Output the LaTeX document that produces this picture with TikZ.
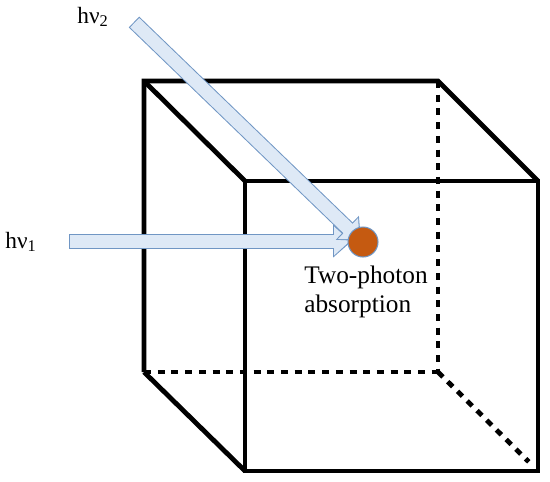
\documentclass[tikz,border=0pt]{standalone}
\usepackage{fontspec}
\setmainfont{Liberation Serif}
\usetikzlibrary{arrows.meta}
\definecolor{beamfill}{RGB}{222,233,246}
\definecolor{beamedge}{RGB}{112,150,196}
\definecolor{spotfill}{RGB}{197,90,17}

\begin{document}
\begin{tikzpicture}[
			x=0.02cm, y=-0.02cm,
			solid edge/.style={line width=4.8*0.02cm, line join=miter},
			hidden edge/.style={line width=4.8*0.02cm, dash pattern=on 7*0.02cm off 6.7*0.02cm},
			beam/.style={line width=15*0.02cm, draw=beamedge,
				-{Triangle[length=19*0.02cm, width=32*0.02cm]}},
			beam core/.style={line width=13*0.02cm, draw=beamfill, shorten <=1*0.02cm, shorten >=2*0.02cm,
				-{Triangle[length=16*0.02cm, width=28*0.02cm, color=beamfill]}},
			photon/.style={font=\fontsize{13.3}{15}\selectfont, anchor=base west, inner sep=0pt},
			caption/.style={font=\fontsize{14.4}{16.4}\selectfont, anchor=base west, inner sep=0pt, align=left},
			spot/.style={circle, draw=beamedge, fill=spotfill, line width=0.6pt, minimum size=30*0.02cm, inner sep=0pt}
			]
			\useasboundingbox (0,0) rectangle (550,481);
			
			% Cube corners
			\coordinate (btl) at (144,81);
			\coordinate (btr) at (438,81);
			\coordinate (bbr) at (438,372);
			\coordinate (bbl) at (144,372);
			\coordinate (ftl) at (245,181);
			\coordinate (ftr) at (538,181);
			\coordinate (fbr) at (538,471);
			\coordinate (fbl) at (245,471);
			
			% Hidden edges
			\draw[hidden edge] (btr) -- (bbr);
			\draw[hidden edge] (bbl) -- (bbr);
			\draw[hidden edge, shorten >=13*0.02cm] (bbr) -- (fbr);
			
			% Visible edges
			\draw[solid edge] (ftl) rectangle (fbr);
			\draw[solid edge] (bbl) -- (btl) -- (btr) -- (ftr);
			\draw[solid edge] (btl) -- (ftl);
			\draw[solid edge] (bbl) -- (fbl);
			
			% Beams
			\coordinate (tail1) at (69,241);
			\coordinate (tail2) at (134,22);
			\coordinate (tip1) at (352,241);
			\coordinate (tip2) at (361,241);
			\draw[beam] (tail1) -- (tip1);
			\draw[beam core] (tail1) -- (tip1);
			\draw[beam] (tail2) -- (tip2);
			\draw[beam core] (tail2) -- (tip2);
			\node[spot] (focus) at (363,242) {};
			
			% Labels
			\node[photon] (hv2) at (77,23) {hν\textsubscript{2}};
			\node[photon] (hv1) at (5,248) {hν\textsubscript{1}};
			\node[caption] (tpa) at (304,312) {Two-photon\\absorption};
			
		\end{tikzpicture}
\end{document}
